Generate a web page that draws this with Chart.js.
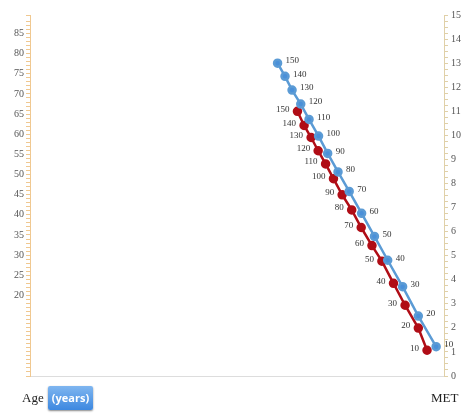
<!DOCTYPE html>
<html><head><meta charset="utf-8">
<script src="https://cdn.jsdelivr.net/npm/chart.js@4"></script>
<style>
body{margin:0;background:#fff}
#wrap{position:relative;width:474px;height:418px}
.lab{position:absolute;font-family:"Liberation Serif",serif;font-size:13px;color:#222}
#yrs{position:absolute;left:48px;top:386px;width:45px;height:24px;border-radius:2px;background:linear-gradient(#7fb6f0,#3d88e0);color:#fff;font:bold 11px "Open Sans",sans-serif;line-height:24px;text-align:center;box-shadow:0 1px 2px #888}
</style></head><body>
<div id="wrap"><canvas id="c" width="474" height="418"></canvas>
<div class="lab" style="left:22px;top:390px">Age</div>
<div id="yrs">(years)</div>
<div class="lab" style="left:431px;top:390px">MET</div></div>
<script>
const speeds = [150,140,130,120,110,100,90,80,70,60,50,40,30,20,10];
const blueX = [59.8,61.6,63.3,65.4,67.4,69.7,71.9,74.4,77.1,80.1,83.2,86.4,90.0,93.8,98.1];
const blueMet = [13.0,12.45,11.88,11.3,10.66,9.97,9.25,8.48,7.67,6.76,5.8,4.81,3.71,2.49,1.22];
const redX = [64.6,66.2,67.9,69.6,71.4,73.3,75.4,77.7,80.0,82.6,85.0,87.8,90.6,93.8,95.9];
const redMet = [11.0,10.41,9.91,9.36,8.81,8.2,7.53,6.9,6.17,5.42,4.77,3.85,2.94,1.99,1.07];
const ageTicks = [20,25,30,35,40,45,50,55,60,65,70,75,80,85];

const pts = (xs, ys) => xs.map((x, i) => ({x, y: ys[i]}));
const pointLabels = {
  id: 'pointLabels',
  afterDatasetsDraw(chart) {
    const ctx = chart.ctx;
    ctx.save();
    ctx.font = '9px "Liberation Serif", serif';
    ctx.fillStyle = '#333';
    ctx.textBaseline = 'middle';
    chart.data.datasets.forEach((ds, di) => {
      chart.getDatasetMeta(di).data.forEach((p, i) => {
        ctx.textAlign = di === 0 ? 'left' : 'right';
        ctx.fillText(speeds[i], p.x + (di === 0 ? 8 : -8), p.y - 2);
      });
    });
    ctx.restore();
  }
};

new Chart(document.getElementById('c'), {
  type: 'scatter',
  data: {datasets: [
    {data: pts(blueX, blueMet), showLine: true, borderColor: '#5b9bd5', backgroundColor: '#4a90d9', borderWidth: 2.5, pointRadius: 3.5, yAxisID: 'met'},
    {data: pts(redX, redMet), showLine: true, borderColor: '#b00d16', backgroundColor: '#b00d16', borderWidth: 2.5, pointRadius: 3.5, yAxisID: 'met'}
  ]},
  options: {
    responsive: false, animation: false,
    layout: {padding: {top: 15, bottom: 34}},
    plugins: {legend: {display: false}, tooltip: {enabled: false}},
    scales: {
      x: {min: 0, max: 100, ticks: {display: false}, grid: {display: false}, border: {color: '#ddd'}},
      age: {position: 'left', min: 0, max: 89.6, afterFit(s) { s.width = 30; },
        ticks: {stepSize: 1, autoSkip: false, color: '#555', font: {family: 'Liberation Serif', size: 10}, padding: 2,
          callback: v => ageTicks.includes(v) ? v : ''},
        grid: {drawOnChartArea: false, color: '#f0c890', tickLength: 4}, border: {color: '#f0c890'}},
      met: {position: 'right', min: 0, max: 15, afterFit(s) { s.width = 30; },
        ticks: {stepSize: 0.25, autoSkip: false, color: '#555', font: {family: 'Liberation Serif', size: 10}, padding: 3,
          callback: v => Number.isInteger(v) ? v : ''},
        grid: {drawOnChartArea: false, color: '#e0d0a8', tickLength: 4}, border: {color: '#e0d0a8'}}
    }
  },
  plugins: [pointLabels]
});
</script></body></html>
